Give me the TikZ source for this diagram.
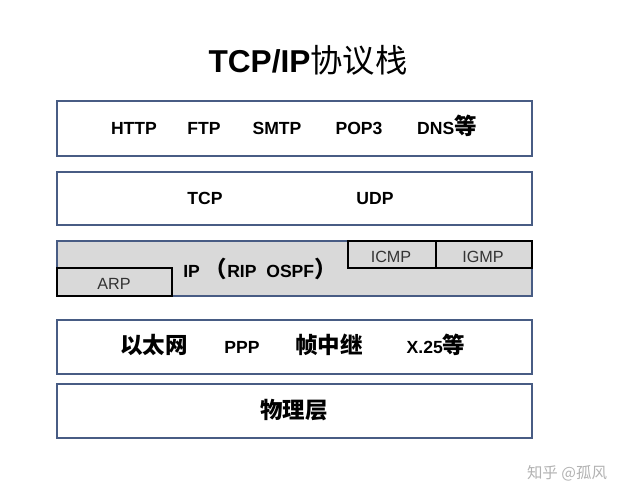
\documentclass[tikz,border=0pt]{standalone}
\usepackage{fontspec}
\setmainfont{Liberation Sans}
\newfontfamily\cjk{Noto Sans CJK SC}
\newcommand\zh[1]{{\cjk\fontsize{16}{18}\selectfont #1}}
\definecolor{layerblue}{RGB}{72,92,132}
\definecolor{ipgray}{RGB}{217,217,217}
\tikzset{
	layer/.style={draw=layerblue, line width=2pt},
	proto/.style={font=\bfseries\fontsize{12.5}{14}\selectfont, inner sep=0pt, anchor=base},
	subbox/.style={draw=black, line width=1.8pt, fill=ipgray},
	small/.style={font=\fontsize{11.5}{13}\selectfont, text=black!80, inner sep=0pt, anchor=base}
}
\begin{document}
\begin{tikzpicture}[x=0.025cm, y=-0.025cm]
	\useasboundingbox (0,0) rectangle (633,502);
	% 标题
	\node[inner sep=0pt] (title) at (308,60) {\fontsize{22.5}{26}\selectfont\bfseries TCP/IP{\mdseries\cjk\fontsize{23}{26}\selectfont 协议栈}};
	% 应用层
	\draw [layer] (57,101) rectangle (532,156);
	\node [proto] (http) at (134,134) {HTTP};
	\node [proto] (ftp) at (204,134) {FTP};
	\node [proto] (smtp) at (277,134) {SMTP};
	\node [proto] (pop) at (359,134) {POP3};
	\node [proto] (dns) at (447,134) {DNS\zh{等}};
	% 传输层
	\draw [layer] (57,172) rectangle (532,225);
	\node [proto] (tcp) at (205,204) {TCP};
	\node [proto] (udp) at (375,204) {UDP};
	% 网络层
	\draw [layer, fill=ipgray] (57,241) rectangle (532,296);
	\draw [subbox] (57,268) rectangle (172,296);
	\draw [subbox] (348,241) rectangle (436,268);
	\draw [subbox] (436,241) rectangle (532,268);
	\node [small] (arp) at (114,289) {ARP};
	\node [small] (icmp) at (391,262) {ICMP};
	\node [small] (igmp) at (483,262) {IGMP};
	\node [proto] (ip) at (260,277) {IP \zh{（}RIP\ \ OSPF\zh{）}};
	% 网络接口层
	\draw [layer] (57,320) rectangle (532,374);
	\node [proto] (eth) at (154,353) {\zh{以太网}};
	\node [proto] (ppp) at (242,353) {PPP};
	\node [proto] (fr) at (329,353) {\zh{帧中继}};
	\node [proto] (x25) at (436,353) {X.25\zh{等}};
	% 物理层
	\draw [layer] (57,384) rectangle (532,438);
	\node [proto] (phy) at (294,418) {\zh{物理层}};
	% 水印
	\node [font=\cjk\fontsize{11}{13}\selectfont, text=black!30] (mark) at (567,473) {知乎 @孤风};
\end{tikzpicture}
\end{document}
